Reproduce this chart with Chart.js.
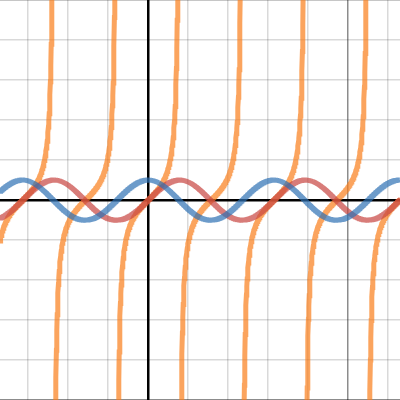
<!DOCTYPE html>
<html>
<head>
<script src="https://cdn.jsdelivr.net/npm/chart.js@4"></script>
<style>body{margin:0;background:#fff}</style>
</head>
<body>
<canvas id="mycanvas" width="400" height="400"></canvas>
<script>
// plotted functions (Desmos style): cos, sin, tan
var xMin = -7.4, xMax = 12.6;
var yMin = -10, yMax = 10;
var step = 0.02;

var xs = [];
for (var x = xMin; x <= xMax; x += step) xs.push(x);

var cosPts = xs.map(function (x) { return {x: x, y: Math.cos(x)}; });
var sinPts = xs.map(function (x) { return {x: x, y: Math.sin(x)}; });
var tanPts = [];
for (var i = 0; i < xs.length; i++) {
    var v = Math.tan(xs[i]);
    if (i > 0 && Math.cos(xs[i]) * Math.cos(xs[i - 1]) < 0) tanPts.push({x: xs[i], y: null});
    tanPts.push({x: xs[i], y: Math.max(-60, Math.min(60, v))});
}

function gridColor(ctx) {
    var v = Math.round(ctx.tick.value * 100) / 100;
    if (v === 0) return '#000';
    if (v % 10 === 0) return 'rgba(0,0,0,0.45)';
    return 'rgba(0,0,0,0.15)';
}
function gridWidth(ctx) {
    return Math.abs(ctx.tick.value) < 1e-9 ? 2.5 : 1.5;
}

new Chart(document.getElementById('mycanvas'), {
    type: 'scatter',
    data: {
        datasets: [{
            data: cosPts, showLine: true, borderColor: 'rgba(45,112,179,0.7)',
            borderWidth: 5, pointRadius: 0
        }, {
            data: sinPts, showLine: true, borderColor: 'rgba(199,68,64,0.7)',
            borderWidth: 5, pointRadius: 0
        }, {
            data: tanPts, showLine: true, borderColor: 'rgba(250,126,25,0.7)',
            borderWidth: 5, pointRadius: 0, spanGaps: false
        }]
    },
    options: {
        responsive: false,
        animation: false,
        layout: {padding: 0},
        plugins: {legend: {display: false}, tooltip: {enabled: false}},
        scales: {
            x: {
                type: 'linear', min: xMin, max: xMax,
                afterBuildTicks: function (s) {
                    s.ticks = [];
                    for (var t = -6; t <= 12; t += 2) s.ticks.push({value: t});
                },
                ticks: {display: false},
                border: {display: false},
                grid: {color: gridColor, lineWidth: gridWidth, drawTicks: false}
            },
            y: {
                type: 'linear', min: yMin, max: yMax,
                afterBuildTicks: function (s) {
                    s.ticks = [];
                    for (var t = -10; t <= 10; t += 2) s.ticks.push({value: t});
                },
                ticks: {display: false},
                border: {display: false},
                grid: {color: gridColor, lineWidth: gridWidth, drawTicks: false}
            }
        }
    }
});
</script>
</body>
</html>
